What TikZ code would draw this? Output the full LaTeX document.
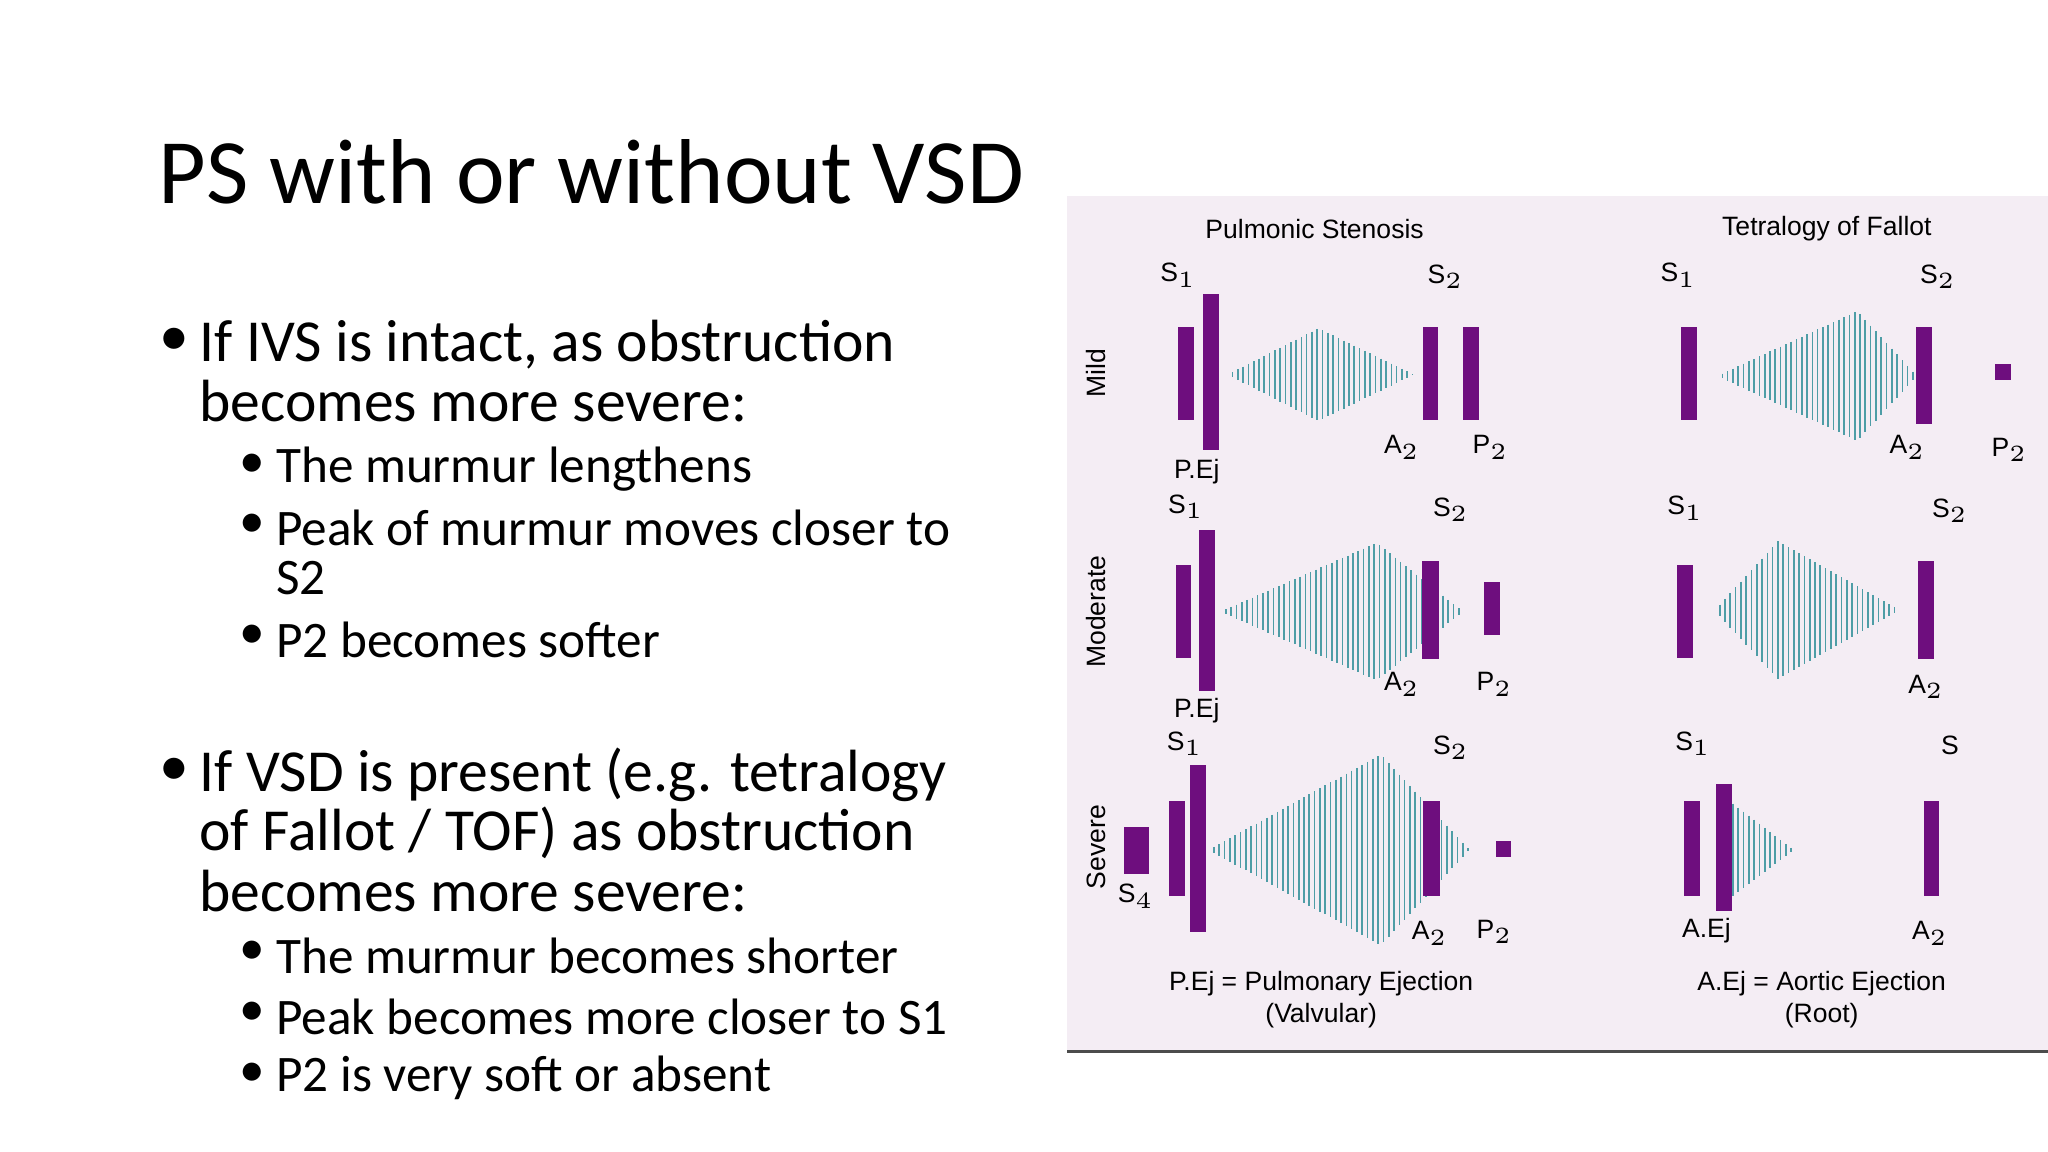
\documentclass[tikz,border=0pt]{standalone}
\usepackage{fontspec}
\setmainfont{Carlito}
\newfontfamily\diafont{Liberation Sans}
\definecolor{barpurple}{HTML}{6E0E7E}
\definecolor{murmurteal}{HTML}{4E9DA6}
\definecolor{panelbg}{HTML}{F4EDF4}
\newcommand{\murmur}[5]{% x0, xpeak, x1, yc, halfheight
  \pgfmathtruncatemacro{\mnext}{#1+4}%
  \foreach \mx in {#1,\mnext,...,#3}{%
    \pgfmathsetmacro{\mh}{\mx<#2 ? #5*(\mx-#1)/max(#2-#1,1) : #5*(#3-\mx)/max(#3-#2,1)}%
    \draw[murmurteal,line width=0.35pt] (\mx,#4-\mh) -- (\mx,#4+\mh);}}
\newcommand{\soundbar}[4]{\fill[barpurple] (#1,#3) rectangle (#2,#4);}
\begin{document}
\begin{tikzpicture}[x=0.01cm,y=-0.01cm,
    lbl/.style={font=\diafont\fontsize{5.7}{7}\selectfont,inner sep=0pt},
    bul/.style={anchor=west,inner sep=0pt,font=\fontsize{12.8}{14}\selectfont},
    sub/.style={anchor=west,inner sep=0pt,font=\fontsize{11}{12}\selectfont}]
    \useasboundingbox[fill=white] (0,0) rectangle (1547,870);

    % Title and bullets
    \node[anchor=west,inner sep=0pt,font=\fontsize{19.8}{24}\selectfont] (title) at (119,130) {PS with or without VSD};
    \node[bul] (b1dot) at (120,258) {•};
    \node[bul] (b1a) at (150,260) {If IVS is intact, as obstruction};
    \node[bul] (b1b) at (150,303) {becomes more severe:};
    \node[sub] (s1dot) at (180,352) {•};
    \node[sub] (s1) at (208,354) {The murmur lengthens};
    \node[sub] (s2dot) at (180,397) {•};
    \node[sub] (s2a) at (208,399) {Peak of murmur moves closer to};
    \node[sub] (s2b) at (208,437) {S2};
    \node[sub] (s3dot) at (180,481) {•};
    \node[sub] (s3) at (208,483) {P2 becomes softer};
    \node[bul] (b2dot) at (120,583) {•};
    \node[bul] (b2a) at (150,585) {If VSD is present (e.g. tetralogy};
    \node[bul] (b2b) at (150,629) {of Fallot / TOF) as obstruction};
    \node[bul] (b2c) at (150,673) {becomes more severe:};
    \node[sub] (s4dot) at (180,720) {•};
    \node[sub] (s4) at (208,722) {The murmur becomes shorter};
    \node[sub] (s5dot) at (180,766) {•};
    \node[sub] (s5) at (208,768) {Peak becomes more closer to S1};
    \node[sub] (s6dot) at (180,812) {•};
    \node[sub] (s6) at (208,814) {P2 is very soft or absent};

    % Panel
    \fill[panelbg] (806,148) rectangle (1547,794);
    \draw[black!70,line width=0.6pt] (806,794) -- (1547,794);
    \node[lbl] (hps) at (993,173) {Pulmonic Stenosis};
    \node[lbl] (htof) at (1380,173) {Tetralogy of Fallot};
    \node[lbl,rotate=90] (rmild) at (828,282) {Mild};
    \node[lbl,rotate=90] (rmod) at (828,462) {Moderate};
    \node[lbl,rotate=90] (rsev) at (828,640) {Severe};

    % Mild
    \murmur{927}{996}{1068}{283}{35}
    \soundbar{890}{902}{247}{317}\soundbar{909}{921}{222}{340}
    \soundbar{1075}{1086}{247}{317}\soundbar{1105}{1117}{247}{317}
    \murmur{1297}{1403}{1448}{284}{49}
    \soundbar{1270}{1282}{247}{317}\soundbar{1447}{1459}{247}{320}\soundbar{1507}{1519}{275}{287}
    \node[lbl] (ms1) at (890,208) {S$_1$};
    \node[lbl] (ms2) at (1092,209) {S$_2$};
    \node[lbl] (mpej) at (904,356) {P.Ej};
    \node[lbl] (ma2) at (1059,338) {A$_2$};
    \node[lbl] (mp2) at (1126,338) {P$_2$};
    \node[lbl] (mts1) at (1268,208) {S$_1$};
    \node[lbl] (mts2) at (1464,209) {S$_2$};
    \node[lbl] (mta2) at (1441,338) {A$_2$};
    \node[lbl] (mtp2) at (1518,340) {P$_2$};

    % Moderate
    \murmur{922}{1040}{1105}{462}{52}
    \soundbar{888}{900}{427}{497}\soundbar{906}{918}{400}{522}
    \soundbar{1074}{1087}{424}{498}\soundbar{1121}{1133}{440}{480}
    \murmur{1295}{1343}{1435}{461}{52}
    \soundbar{1267}{1279}{427}{497}\soundbar{1449}{1461}{424}{498}
    \node[lbl] (ds1) at (896,383) {S$_1$};
    \node[lbl] (ds2) at (1096,385) {S$_2$};
    \node[lbl] (dpej) at (904,537) {P.Ej};
    \node[lbl] (da2) at (1059,517) {A$_2$};
    \node[lbl] (dp2) at (1129,517) {P$_2$};
    \node[lbl] (dts1) at (1273,384) {S$_1$};
    \node[lbl] (dts2) at (1473,386) {S$_2$};
    \node[lbl] (dta2) at (1455,519) {A$_2$};

    % Severe
    \murmur{913}{1043}{1110}{642}{72}
    \fill[barpurple] (849,625) rectangle (868,660);
    \soundbar{883}{895}{605}{677}\soundbar{899}{911}{578}{704}
    \soundbar{1075}{1088}{605}{677}\soundbar{1130}{1141}{635}{647}
    \murmur{1309}{1309}{1355}{642}{35}
    \soundbar{1272}{1284}{605}{677}\soundbar{1296}{1308}{592}{688}\soundbar{1453}{1465}{605}{677}
    \node[lbl] (vs1) at (895,562) {S$_1$};
    \node[lbl] (vs2) at (1096,565) {S$_2$};
    \node[lbl] (vs4) at (858,677) {S$_4$};
    \node[lbl] (va2) at (1080,705) {A$_2$};
    \node[lbl] (vp2) at (1129,704) {P$_2$};
    \node[lbl] (vts1) at (1279,562) {S$_1$};
    \node[lbl] (vts) at (1473,563) {S};
    \node[lbl] (vaej) at (1289,703) {A.Ej};
    \node[lbl] (vta2) at (1458,705) {A$_2$};

    % Footers
    \node[lbl,align=center] (fps) at (998,755) {P.Ej = Pulmonary Ejection\\(Valvular)};
    \node[lbl,align=center] (ftof) at (1376,755) {A.Ej = Aortic Ejection\\(Root)};
\end{tikzpicture}
\end{document}
